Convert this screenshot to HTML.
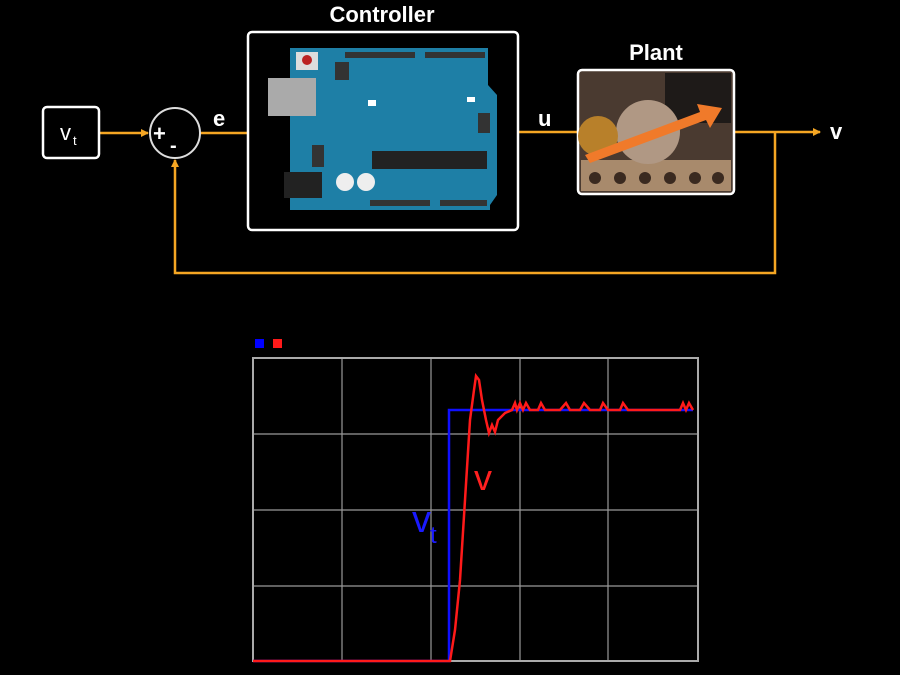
<!DOCTYPE html>
<html><head><meta charset="utf-8"><style>
html,body{margin:0;padding:0;background:#000;}
svg{display:block;}
text{font-family:"Liberation Sans",sans-serif;}
</style></head><body>
<svg width="900" height="675" viewBox="0 0 900 675" xmlns="http://www.w3.org/2000/svg">
<rect width="900" height="675" fill="#000"/>
<defs>
<marker id="ar" markerWidth="8" markerHeight="8" refX="7" refY="4" orient="auto" markerUnits="userSpaceOnUse"><path d="M0,0 L8,4 L0,8 Z" fill="#f5a623"/></marker>
</defs>
<g stroke="#f5a623" stroke-width="2.5" fill="none">
<line x1="99" y1="133" x2="148" y2="133" marker-end="url(#ar)"/>
<line x1="200" y1="133" x2="260" y2="133"/>
<line x1="510" y1="132" x2="578" y2="132"/>
<line x1="734" y1="132" x2="820" y2="132" marker-end="url(#ar)"/>
<polyline points="775,132 775,273 175,273 175,160" marker-end="url(#ar)"/>
</g>
<rect x="43" y="107" width="56" height="51" rx="4" fill="#000" stroke="#fff" stroke-width="2.5"/>
<text x="60" y="140" fill="#fff" font-size="22">v</text><text x="73" y="145" fill="#fff" font-size="13">t</text>
<circle cx="175" cy="133" r="25" fill="#000" stroke="#ddd" stroke-width="2"/>
<text x="153" y="141" fill="#fff" font-size="22" font-weight="bold">+</text>
<text x="170" y="152" fill="#fff" font-size="20" font-weight="bold">-</text>
<text x="213" y="126" fill="#fff" font-size="22" font-weight="bold">e</text>
<text x="538" y="126" fill="#fff" font-size="22" font-weight="bold">u</text>
<text x="830" y="139" fill="#fff" font-size="22" font-weight="bold">v</text>
<text x="382" y="22" fill="#fff" font-size="22" font-weight="bold" text-anchor="middle">Controller</text>
<rect x="248" y="32" width="270" height="198" rx="4" fill="#000" stroke="#fff" stroke-width="2.5"/>
<path d="M290,48 L488,48 L488,85 L497,95 L497,195 L490,205 L490,210 L290,210 Z" fill="#1e7fa6"/>
<rect x="268" y="78" width="48" height="38" fill="#aaa"/>
<rect x="284" y="172" width="38" height="26" fill="#222"/>
<rect x="372" y="151" width="115" height="18" fill="#222"/>
<rect x="345" y="52" width="70" height="6" fill="#333"/>
<rect x="425" y="52" width="60" height="6" fill="#333"/>
<rect x="370" y="200" width="60" height="6" fill="#333"/>
<rect x="440" y="200" width="47" height="6" fill="#333"/>
<rect x="296" y="52" width="22" height="18" fill="#ddd"/>
<circle cx="307" cy="60" r="5" fill="#b22"/>
<rect x="335" y="62" width="14" height="18" fill="#333"/>
<rect x="478" y="113" width="12" height="20" fill="#333"/>
<rect x="312" y="145" width="12" height="22" fill="#333"/>
<circle cx="345" cy="182" r="9" fill="#eee"/><circle cx="366" cy="182" r="9" fill="#eee"/>
<rect x="368" y="100" width="8" height="6" fill="#fff"/>
<rect x="467" y="97" width="8" height="5" fill="#fff"/>
<text x="656" y="60" fill="#fff" font-size="22" font-weight="bold" text-anchor="middle">Plant</text>
<rect x="578" y="70" width="156" height="124" rx="4" fill="#4a3a30" stroke="#fff" stroke-width="2.5"/>
<rect x="665" y="73" width="66" height="50" fill="#1e1a18"/>
<rect x="581" y="160" width="150" height="31" fill="#a88a6c"/>
<g fill="#3a2a20"><circle cx="595" cy="178" r="6"/><circle cx="620" cy="178" r="6"/><circle cx="645" cy="178" r="6"/><circle cx="670" cy="178" r="6"/><circle cx="695" cy="178" r="6"/><circle cx="718" cy="178" r="6"/></g>
<circle cx="648" cy="132" r="32" fill="#b09884"/>
<circle cx="598" cy="136" r="20" fill="#b8802a"/>
<path d="M585,155 L700,112 L697,104 L722,108 L710,128 L706,120 L590,163 Z" fill="#f07a2a"/>
<rect x="255" y="339" width="9" height="9" fill="#0000ff"/>
<rect x="273" y="339" width="9" height="9" fill="#ff1a1a"/>
<g stroke="#999" stroke-width="1.2" fill="none">
<line x1="342" y1="358" x2="342" y2="661"/><line x1="431" y1="358" x2="431" y2="661"/>
<line x1="520" y1="358" x2="520" y2="661"/><line x1="608" y1="358" x2="608" y2="661"/>
<line x1="253" y1="434" x2="698" y2="434"/><line x1="253" y1="510" x2="698" y2="510"/>
<line x1="253" y1="586" x2="698" y2="586"/>
</g>
<rect x="253" y="358" width="445" height="303" fill="none" stroke="#aaa" stroke-width="2"/>
<polyline points="253,661 449,661 449,410 693,410" fill="none" stroke="#1010ff" stroke-width="2.5"/>
<polyline points="253,661 450,661 455,630 460,580 465,500 470,420 474,390 476,376 479,380 482,400 486,420 489,433 492,425 495,432 498,420 505,413 512,410 515,403 517,410 520,403 523,410 526,403 530,410 538,410 541,403 545,410 560,410 566,403 570,410 580,410 584,403 590,410 600,410 603,403 608,410 620,410 623,403 628,410 680,410 683,403 686,410 689,403 693,410" fill="none" stroke="#ff1a1a" stroke-width="2.5"/>
<text x="474" y="490" fill="#ff2020" font-size="36">v</text>
<text x="412" y="532" fill="#1a1aff" font-size="38">v</text><text x="430" y="543" fill="#1a1aff" font-size="24">t</text>
</svg>
</body></html>
